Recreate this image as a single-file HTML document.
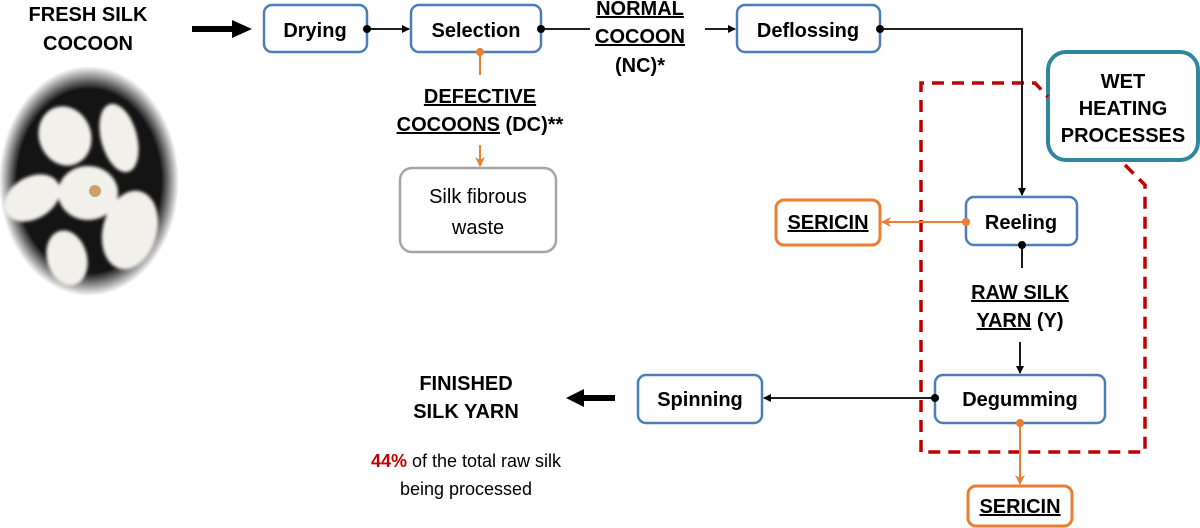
<!DOCTYPE html>
<html><head><meta charset="utf-8"><style>
body{margin:0;background:#fff}
svg{display:block;font-family:"Liberation Sans",sans-serif}
.b{font-weight:bold;font-size:20px}
</style></head><body>
<svg width="1200" height="528" viewBox="0 0 1200 528" xmlns="http://www.w3.org/2000/svg">
<defs>
<radialGradient id="fade" cx="50%" cy="50%" r="50%">
<stop offset="80%" stop-color="#141414" stop-opacity="1"/>
<stop offset="100%" stop-color="#141414" stop-opacity="0"/>
</radialGradient>
<filter id="soft"><feGaussianBlur stdDeviation="1.5"/></filter>
<marker id="ak" markerWidth="8" markerHeight="8" refX="7" refY="4" orient="auto" markerUnits="userSpaceOnUse"><path d="M0,0 L8,4 L0,8 Z" fill="#000"/></marker>
<marker id="ao" markerWidth="10" markerHeight="10" refX="9" refY="5" orient="auto" markerUnits="userSpaceOnUse"><path d="M0,0 L10,5 L0,10 L3,5 Z" fill="#ed7d31"/></marker>
</defs>
<!-- photo -->
<ellipse cx="89" cy="181" rx="90" ry="115" fill="url(#fade)"/>
<g fill="#f2f0ea" filter="url(#soft)">
<ellipse cx="65" cy="136" rx="26" ry="30" transform="rotate(-20 65 136)"/>
<ellipse cx="119" cy="138" rx="18" ry="35" transform="rotate(-15 119 138)"/>
<ellipse cx="32" cy="198" rx="30" ry="21" transform="rotate(-30 32 198)"/>
<ellipse cx="88" cy="193" rx="30" ry="27"/>
<ellipse cx="130" cy="230" rx="27" ry="40" transform="rotate(15 130 230)"/>
<ellipse cx="67" cy="258" rx="20" ry="28" transform="rotate(-15 67 258)"/>
</g>
<circle cx="95" cy="191" r="6" fill="#c9a26a"/>
<text class="b" x="88" y="21" text-anchor="middle">FRESH SILK</text>
<text class="b" x="88" y="50" text-anchor="middle">COCOON</text>
<!-- thick arrow -->
<path d="M192,29 L236,29" stroke="#000" stroke-width="6"/><path d="M232,20 L252,29 L232,38 Z"/>
<!-- boxes -->
<g fill="#fff" stroke="#4a7ebb" stroke-width="2.5">
<rect x="264" y="5" width="103" height="47" rx="8"/>
<rect x="411" y="5" width="130" height="47" rx="8"/>
<rect x="737" y="5" width="143" height="47" rx="8"/>
<rect x="966" y="197" width="111" height="48" rx="8"/>
<rect x="935" y="375" width="170" height="48" rx="8"/>
<rect x="638" y="375" width="124" height="48" rx="8"/>
</g>
<rect x="400" y="168" width="156" height="84" rx="12" fill="#fff" stroke="#a5a5a5" stroke-width="2.5"/>
<g fill="#fff" stroke="#ed7d31" stroke-width="3">
<rect x="776" y="200" width="104" height="45" rx="8"/>
<rect x="968" y="486" width="104" height="40" rx="8"/>
</g>
<rect x="1048" y="52" width="150" height="108" rx="18" fill="#fff" stroke="#31859c" stroke-width="4"/>
<!-- red dashed -->
<path d="M921,452 L921,83 L1035,83 L1048,97 M1125,165 L1145,185 L1145,452 L921,452" fill="none" stroke="#c00000" stroke-width="3.5" stroke-dasharray="12,8"/>
<!-- connectors -->
<g stroke="#000" stroke-width="1.8" fill="none">
<path d="M367,29 L409,29" marker-end="url(#ak)"/>
<path d="M541,29 L590,29"/>
<path d="M705,29 L735,29" marker-end="url(#ak)"/>
<path d="M880,29 L1022,29 L1022,195" marker-end="url(#ak)"/>
<path d="M1022,245 L1022,268"/>
<path d="M1020,342 L1020,373" marker-end="url(#ak)"/>
<path d="M935,398 L764,398" marker-end="url(#ak)"/>
</g>
<g fill="#000"><circle cx="367" cy="29" r="4"/><circle cx="541" cy="29" r="4"/><circle cx="880" cy="29" r="4"/><circle cx="1022" cy="245" r="4"/><circle cx="935" cy="398" r="4"/></g>
<g stroke="#ed7d31" stroke-width="2" fill="none">
<path d="M480,52 L480,75"/>
<path d="M480,145 L480,166" marker-end="url(#ao)"/>
<path d="M966,222 L882,222" marker-end="url(#ao)"/>
<path d="M1020,423 L1020,484" marker-end="url(#ao)"/>
</g>
<g fill="#ed7d31"><circle cx="480" cy="52" r="4"/><circle cx="966" cy="222" r="4"/><circle cx="1020" cy="423" r="4"/></g>
<path d="M615,398 L580,398" stroke="#000" stroke-width="6"/><path d="M584,389 L566,398 L584,407 Z"/>
<!-- labels -->
<g class="b" text-anchor="middle">
<text x="315" y="37">Drying</text>
<text x="476" y="37">Selection</text>
<text x="808" y="37">Deflossing</text>
<text x="1021" y="229">Reeling</text>
<text x="1020" y="406">Degumming</text>
<text x="700" y="406">Spinning</text>
<text x="828" y="229" text-decoration="underline">SERICIN</text>
<text x="1020" y="513" text-decoration="underline">SERICIN</text>
<text x="640" y="15" text-decoration="underline">NORMAL</text>
<text x="640" y="43" text-decoration="underline">COCOON</text>
<text x="640" y="72">(NC)*</text>
<text x="480" y="103"><tspan text-decoration="underline">DEFECTIVE</tspan></text>
<text x="480" y="131"><tspan text-decoration="underline">COCOONS</tspan> (DC)**</text>
<text x="1020" y="299" text-decoration="underline">RAW SILK</text>
<text x="1020" y="327"><tspan text-decoration="underline">YARN</tspan> (Y)</text>
<text x="1123" y="88">WET</text>
<text x="1123" y="115">HEATING</text>
<text x="1123" y="142">PROCESSES</text>
<text x="466" y="390">FINISHED</text>
<text x="466" y="418">SILK YARN</text>
</g>
<g font-size="20" text-anchor="middle">
<text x="478" y="203">Silk fibrous</text>
<text x="478" y="234">waste</text>
</g>
<g font-size="18" text-anchor="middle">
<text x="466" y="467"><tspan fill="#c00000" font-weight="bold">44%</tspan> of the total raw silk</text>
<text x="466" y="495">being processed</text>
</g>
</svg>
</body></html>
